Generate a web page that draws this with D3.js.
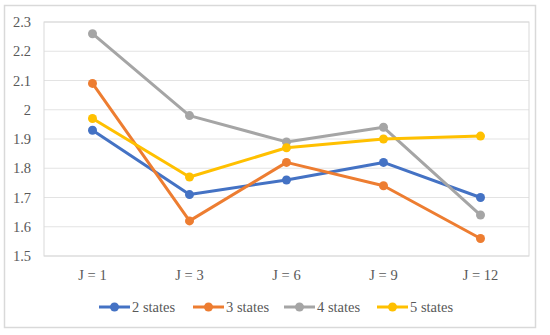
<!DOCTYPE html>
<html lang="en">
<head>
<meta charset="UTF-8">
<title>States by J</title>
<script src="https://d3js.org/d3.v7.min.js"></script>
<style>
    body { margin: 0; background: #fff; }
    svg text { font-family: "Liberation Serif", "DejaVu Serif", serif; fill: #595959; }
</style>
</head>
<body>
<div id="chart"></div>
<script>
    // Data
    const categories = ["J = 1", "J = 3", "J = 6", "J = 9", "J = 12"];
    const seriesNames = ["2 states", "3 states", "4 states", "5 states"];
    const states2 = [1.93, 1.71, 1.76, 1.82, 1.70];
    const states3 = [2.09, 1.62, 1.82, 1.74, 1.56];
    const states4 = [2.26, 1.98, 1.89, 1.94, 1.64];
    const states5 = [1.97, 1.77, 1.87, 1.90, 1.91];
    const yTicks = [1.5, 1.6, 1.7, 1.8, 1.9, 2, 2.1, 2.2, 2.3];

    const series = [states2, states3, states4, states5];
    const colors = ["#4472C4", "#ED7D31", "#A5A5A5", "#FFC000"];

    const W = 550, H = 335;
    const plot = {left: 44, top: 22, right: 529, bottom: 256};
    const fontSize = "14.5px";

    const svg = d3.select("#chart").append("svg")
        .attr("width", W).attr("height", H);

    // outer chart frame
    svg.append("rect")
        .attr("x", 4.5).attr("y", 5.5)
        .attr("width", 531).attr("height", 322)
        .attr("fill", "#fff").attr("stroke", "#d9d9d9").attr("stroke-width", 1.5);

    const x = d3.scaleBand().domain(categories).range([plot.left, plot.right]);
    const y = d3.scaleLinear().domain([1.5, 2.3]).range([plot.bottom, plot.top]);

    // gridlines
    svg.append("g").selectAll("line")
        .data(yTicks)
        .enter().append("line")
        .attr("x1", plot.left).attr("x2", plot.right)
        .attr("y1", d => y(d)).attr("y2", d => y(d))
        .attr("stroke", "#e3e3e3").attr("stroke-width", 1);

    // plot area frame
    svg.append("rect")
        .attr("x", plot.left).attr("y", plot.top)
        .attr("width", plot.right - plot.left).attr("height", plot.bottom - plot.top)
        .attr("fill", "none").attr("stroke", "#d9d9d9").attr("stroke-width", 1);

    // y axis labels
    const yAxis = svg.append("g")
        .attr("transform", "translate(" + (plot.left - 13) + ",0)")
        .call(d3.axisLeft(y).tickValues(yTicks).tickSize(0).tickPadding(0).tickFormat(d3.format("")));
    yAxis.select(".domain").remove();
    yAxis.selectAll("text").style("font-size", fontSize).attr("fill", "#595959")
        .style("font-family", "'Liberation Serif', serif");

    // x axis labels
    const xAxis = svg.append("g")
        .attr("transform", "translate(0," + (plot.bottom + 14) + ")")
        .call(d3.axisBottom(x).tickSize(0).tickPadding(0));
    xAxis.select(".domain").remove();
    xAxis.selectAll("text").style("font-size", fontSize).attr("fill", "#595959")
        .style("font-family", "'Liberation Serif', serif");

    const line = d3.line()
        .x((d, i) => x(categories[i]) + x.bandwidth() / 2)
        .y(d => y(d));

    series.forEach((vals, s) => {
        svg.append("path")
            .datum(vals)
            .attr("d", line)
            .attr("fill", "none")
            .attr("stroke", colors[s])
            .attr("stroke-width", 3)
            .attr("stroke-linejoin", "round");
        svg.append("g").selectAll("circle")
            .data(vals)
            .enter().append("circle")
            .attr("cx", (d, i) => x(categories[i]) + x.bandwidth() / 2)
            .attr("cy", d => y(d))
            .attr("r", 4.5)
            .attr("fill", colors[s]);
    });

    // legend
    const legendX = [99, 193, 284, 377];
    const legendY = 307;
    const legend = svg.append("g");
    seriesNames.forEach((name, s) => {
        const g = legend.append("g").attr("transform", "translate(" + legendX[s] + "," + legendY + ")");
        g.append("line").attr("x1", 0).attr("x2", 31).attr("y1", 0).attr("y2", 0)
            .attr("stroke", colors[s]).attr("stroke-width", 3);
        g.append("circle").attr("cx", 15.5).attr("cy", 0).attr("r", 4.5).attr("fill", colors[s]);
        g.append("text").attr("x", 33).attr("y", 0).attr("dy", "0.35em")
            .style("font-size", fontSize).text(name);
    });
</script>
</body>
</html>
